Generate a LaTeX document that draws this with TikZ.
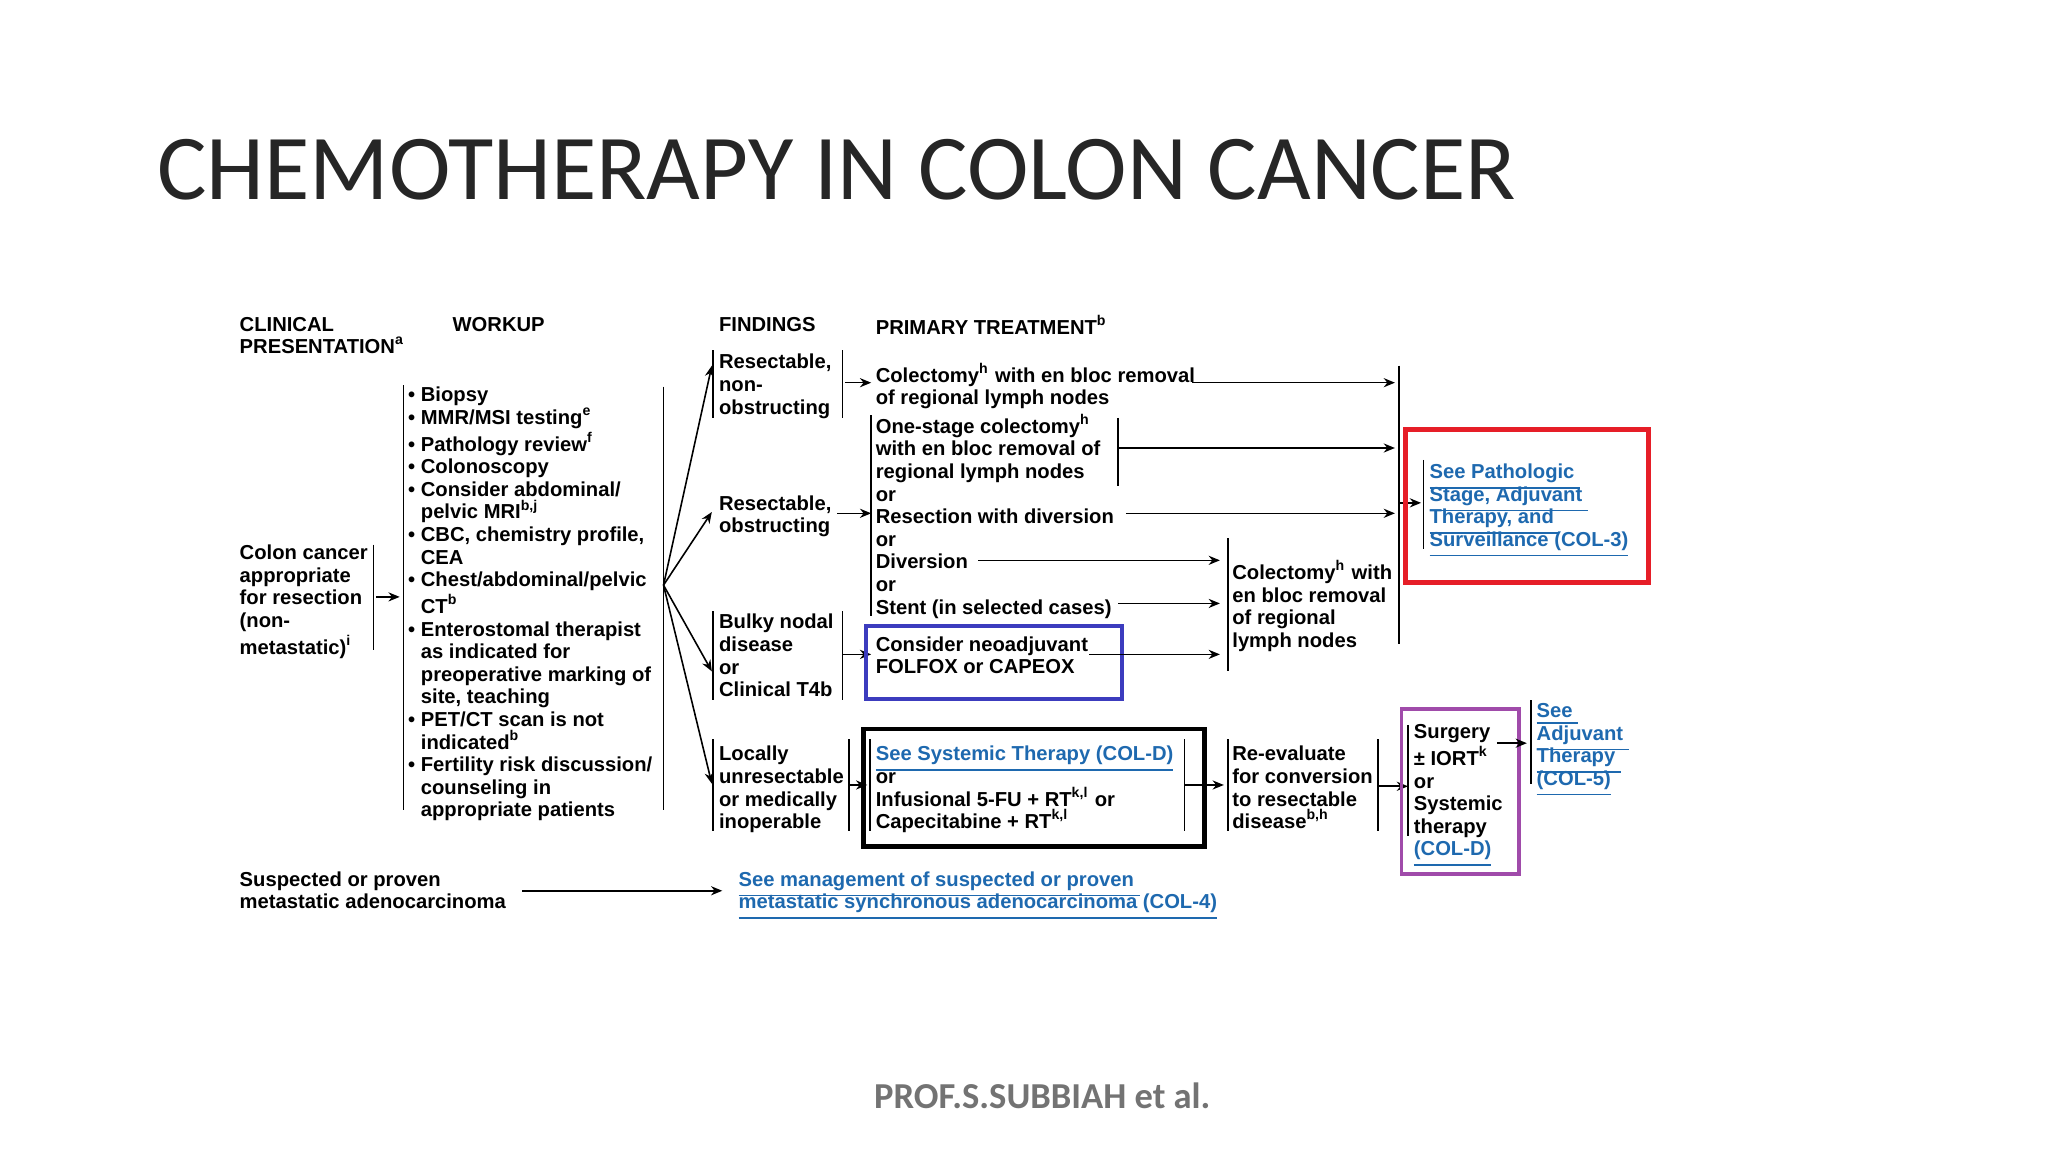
\documentclass[tikz,border=0pt]{standalone}
\usepackage{fontspec}
\setmainfont{Liberation Sans}
\newfontfamily\ttl{Carlito}
\usetikzlibrary{arrows.meta}
\definecolor{lnk}{RGB}{30,105,175}
\definecolor{redb}{RGB}{230,30,40}
\definecolor{blub}{RGB}{60,60,190}
\definecolor{purb}{RGB}{160,75,170}
\newcommand{\lk}[1]{\smash{\color{lnk}\underline{#1}}}
\newcommand{\st}{\rule{0pt}{4.6pt}}
\newcommand{\bi}{\textbullet~}
\newcommand{\ind}{\phantom{\textbullet~}}
\tikzset{
 txt/.style={anchor=north west,inner sep=0pt,align=left,font=\bfseries\fontsize{5.75}{6.43}\selectfont},
 ln/.style={line width=0.45pt},
 ar/.style={line width=0.45pt,-{Stealth[length=3.2pt,width=2.6pt]}}
}
\begin{document}
\begin{tikzpicture}[x=0.013061cm,y=-0.013061cm]
\useasboundingbox (0,0) rectangle (1568,882);
\fill[white] (0,0) rectangle (1568,882);
\node[anchor=base west,inner sep=0,font=\ttl\fontsize{26.4}{28}\selectfont,text=black!85] (title) at (120,153) {CHEMOTHERAPY IN COLON CANCER};
\node[anchor=base,inner sep=0,font=\ttl\bfseries\fontsize{10.4}{12}\selectfont,text=black!55] (foot) at (798,849) {PROF.S.SUBBIAH et al.};
% headers
\node[txt] (h1) at (183,{253-12.4}) {\st CLINICAL\\PRESENTATION\textsuperscript{a}};
\node[txt] (h2) at (346,{253-12.4}) {\st WORKUP};
\node[txt] (h3) at (550,{253-12.4}) {\st FINDINGS};
\node[txt] (h4) at (670,{253-12.4}) {\st PRIMARY TREATMENT\textsuperscript{b}};
% clinical
\node[txt] (cc) at (183,{428-12.4}) {\st Colon cancer\\appropriate\\for resection\\(non-\\metastatic)\textsuperscript{i}};
\draw[ln] (286,417) -- (286,498);
\coordinate (cca) at (288,457); \coordinate (wka) at (306,457);
\draw[ar] (cca) -- (wka);
% workup
\draw[ln] (309,295) -- (309,620);
\node[txt] (wk) at (312,{307-12.4}) {\st\bi Biopsy\\\bi MMR/MSI testing\textsuperscript{e}\\\bi Pathology review\textsuperscript{f}\\\bi Colonoscopy\\\bi Consider abdominal/\\\ind pelvic MRI\textsuperscript{b,j}\\\bi CBC, chemistry profile,\\\ind CEA\\\bi Chest/abdominal/pelvic\\\ind CT\textsuperscript{b}\\\bi Enterostomal therapist\\\ind as indicated for\\\ind preoperative marking of\\\ind site, teaching\\\bi PET/CT scan is not\\\ind indicated\textsuperscript{b}\\\bi Fertility risk discussion/\\\ind counseling in\\\ind appropriate patients};
\draw[ln] (508,296) -- (508,620);
\coordinate (fan) at (508,448);
\coordinate (f1) at (545,280); \coordinate (f2) at (545,392);
\coordinate (f3) at (545,514); \coordinate (f4) at (545,600);
\foreach \f in {f1,f2,f3,f4} \draw[ar] (fan) -- (\f);
% findings
\node[txt] (fa) at (550,{282-12.4}) {\st Resectable,\\non-\\obstructing};
\draw[ln] (546,268) -- (546,320); \draw[ln] (645,268) -- (645,320);
\node[txt] (fb) at (550,{390-12.4}) {\st Resectable,\\obstructing};
\node[txt] (fc) at (550,{481-12.4}) {\st Bulky nodal\\disease\\or\\Clinical T4b};
\draw[ln] (546,468) -- (546,536); \draw[ln] (645,468) -- (645,536);
\node[txt] (fd) at (550,{582-12.4}) {\st Locally\\unresectable\\or medically\\inoperable};
\draw[ln] (546,566) -- (546,636); \draw[ln] (650,566) -- (650,636);
\draw[ar] (647,293) -- (667,293);
\draw[ar] (641,393) -- (667,393);
\draw[ar] (645,501) -- (667,501);
\draw[ar] (650,601) -- (664,601);
% primary treatment
\node[txt] (p1) at (670,{290-12.4}) {\st Colectomy\textsuperscript{h} with en bloc removal\\of regional lymph nodes};
\draw[ar] (913,293) -- (1068,293);
\draw[ln] (667,318) -- (667,472);
\node[txt] (p2) at (670,{329-12.4}) {\st One-stage colectomy\textsuperscript{h}\\with en bloc removal of\\regional lymph nodes\\or\\Resection with diversion\\or\\Diversion\\or\\Stent (in selected cases)};
\draw[ln] (856,320) -- (856,372);
\draw[ar] (856,343) -- (1068,343);
\draw[ar] (862,393) -- (1068,393);
\draw[ar] (749,429) -- (934,429);
\draw[ar] (856,462) -- (934,462);
\draw[blub,line width=1.1pt] (663,479) rectangle (859,535);
\node[txt] (p3) at (670,{498-12.4}) {\st Consider neoadjuvant\\FOLFOX or CAPEOX};
\draw[ar] (834,501) -- (934,501);
\draw[ln] (940,412) -- (940,514);
\node[txt] (p4) at (943,{441-12.4}) {\st Colectomy\textsuperscript{h} with\\en bloc removal\\of regional\\lymph nodes};
\draw[ln] (1071,280) -- (1071,493);
\draw[ar] (1071,385) -- (1088,385);
\draw[redb,line width=1.3pt] (1076,329) rectangle (1262,446);
\draw[ln] (1090,352) -- (1090,420);
\node[txt] (p5) at (1094,{366-12.4}) {\st\lk{See Pathologic }\\\lk{Stage, Adjuvant }\\\lk{Therapy, and }\\\lk{Surveillance (COL-3)}};
% bottom row
\draw[line width=1.3pt] (661,558) rectangle (922,648);
\draw[ln] (666,566) -- (666,636); \draw[ln] (907,566) -- (907,636);
\node[txt] (p6) at (670,{582-12.4}) {\st\lk{See Systemic Therapy (COL-D)}\\or\\Infusional 5-FU + RT\textsuperscript{k,l} or\\Capecitabine + RT\textsuperscript{k,l}};
\draw[ar] (907,601) -- (937,601);
\draw[ln] (940,566) -- (940,636); \draw[ln] (1055,566) -- (1055,636);
\node[txt] (p7) at (943,{582-12.4}) {\st Re-evaluate\\for conversion\\to resectable\\disease\textsuperscript{b,h}};
\draw[ar] (1055,602) -- (1078,602);
\draw[purb,line width=1.1pt] (1073,543) rectangle (1163,669);
\draw[ln] (1078,555) -- (1078,640);
\node[txt] (p8) at (1082,{565-12.4}) {\st Surgery\\± IORT\textsuperscript{k}\\or\\Systemic\\therapy\\\lk{(COL-D)}};
\draw[ar] (1146,569) -- (1169,569);
\draw[ln] (1172,536) -- (1172,600);
\node[txt] (p9) at (1176,{549-12.4}) {\st\lk{See }\\\lk{Adjuvant }\\\lk{Therapy }\\\lk{(COL-5)}};
\node[txt] (sp) at (183,{678-12.4}) {\st Suspected or proven\\metastatic adenocarcinoma};
\draw[ar] (400,682) -- (553,682);
\node[txt] (sl) at (565,{678-12.4}) {\st\lk{See management of suspected or proven }\\\lk{metastatic synchronous adenocarcinoma (COL-4)}};
\end{tikzpicture}
\end{document}
